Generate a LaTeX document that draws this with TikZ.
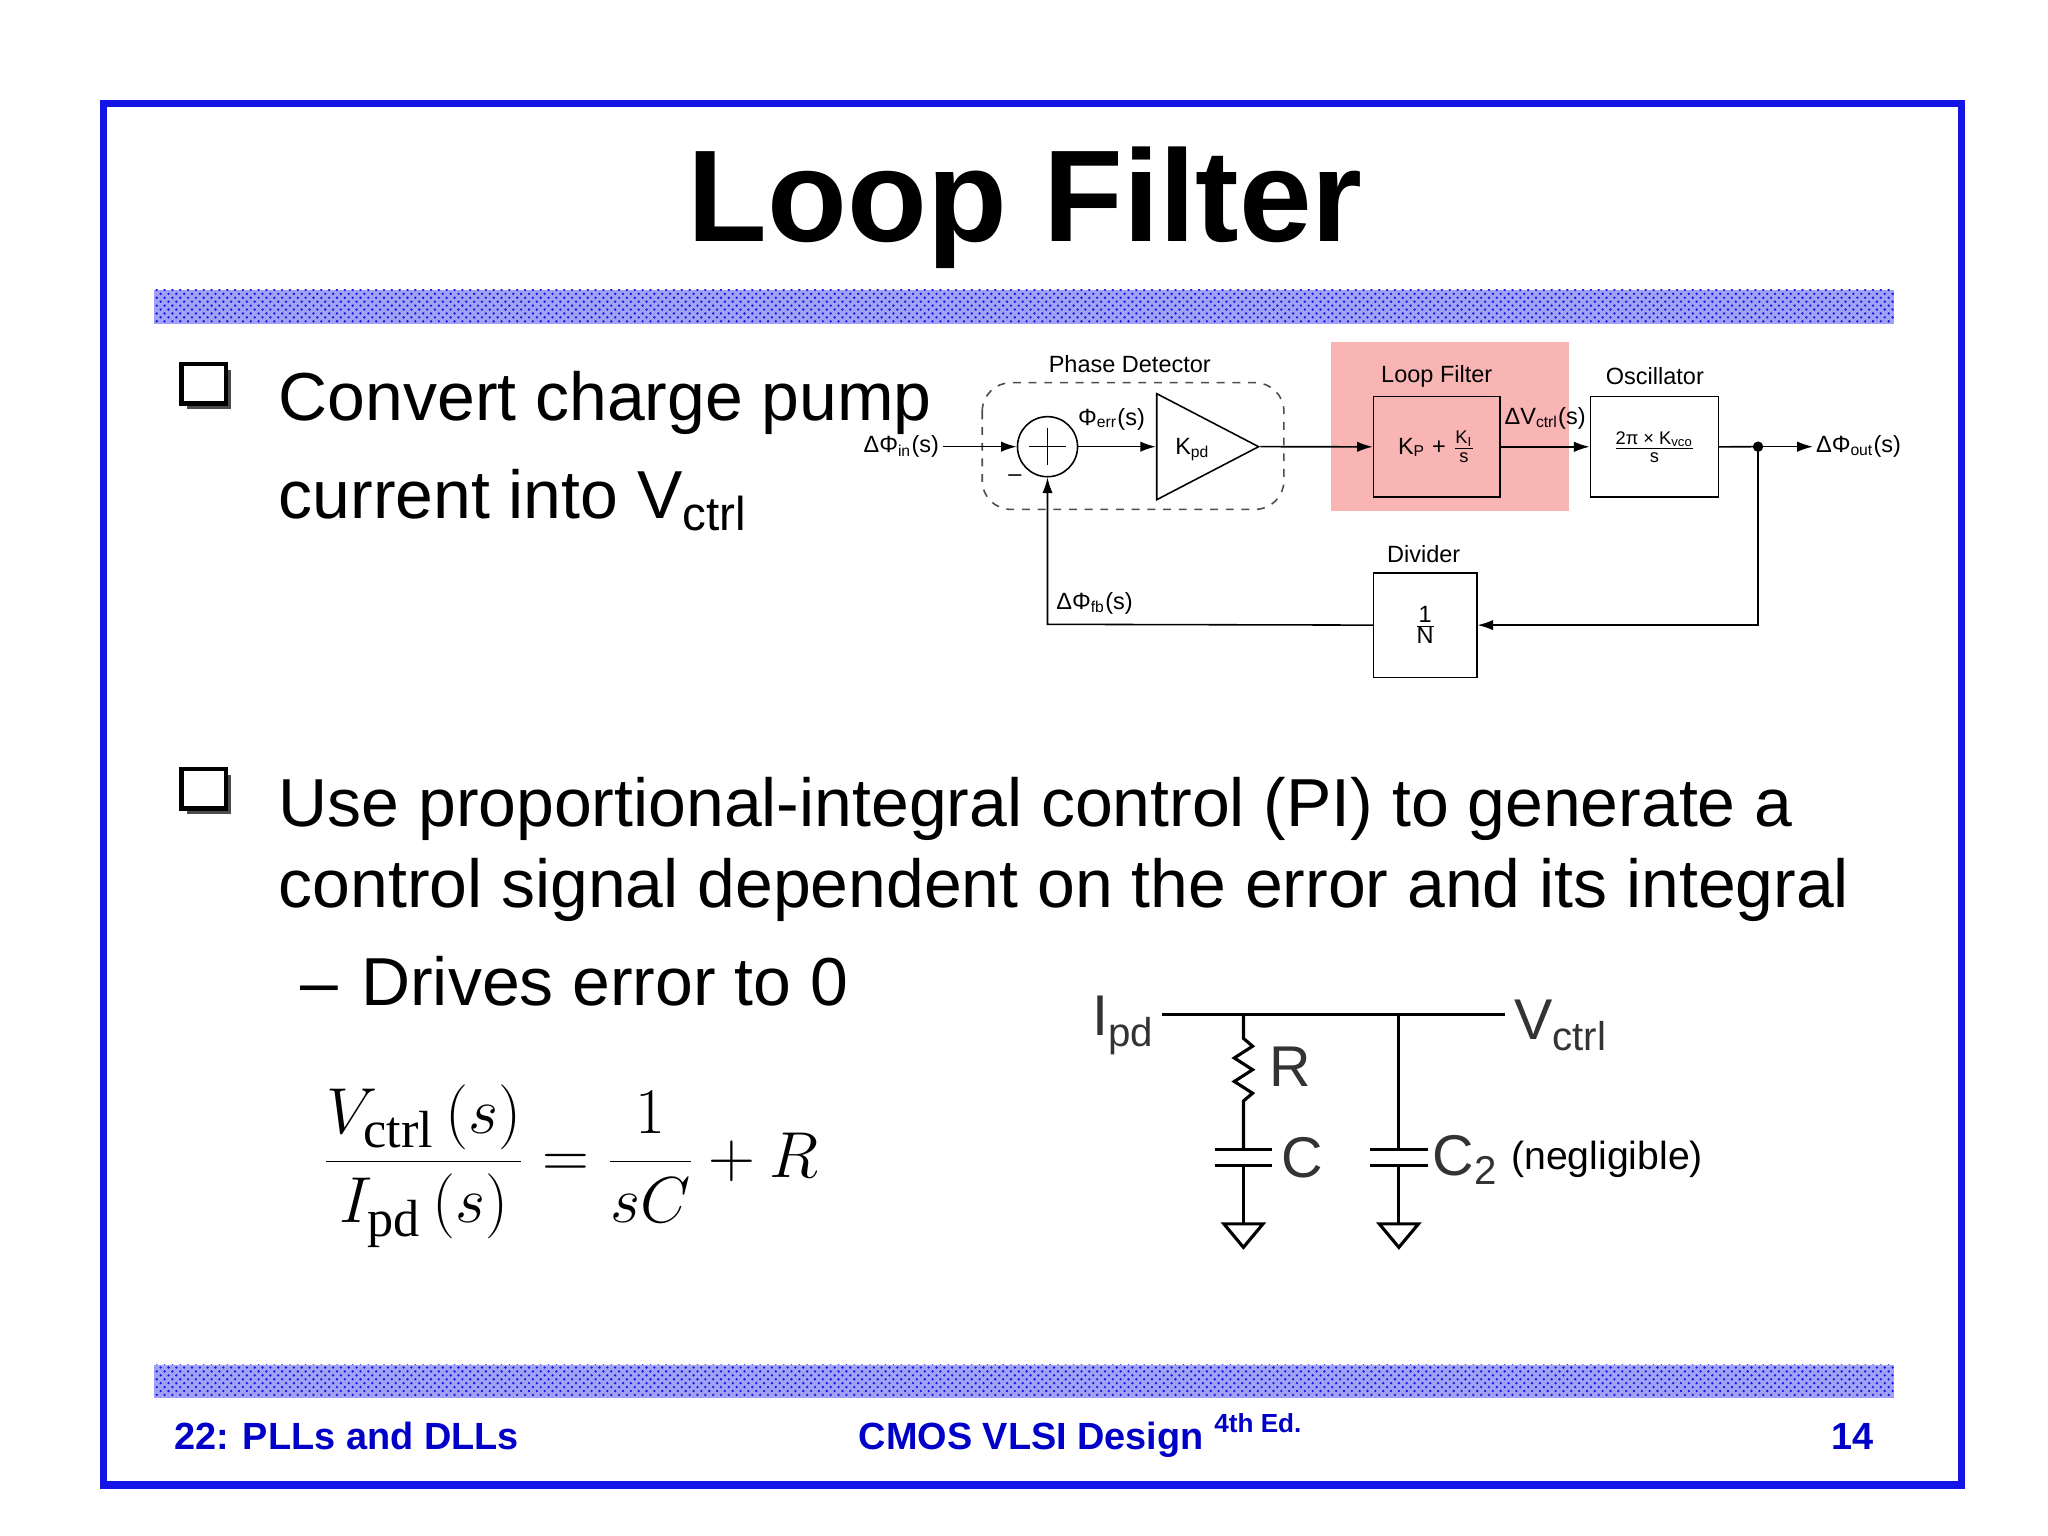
\documentclass[tikz,border=0pt]{standalone}
\usepackage{fontspec}
\setmainfont{Liberation Sans}
\newfontfamily\serifm{Liberation Serif}
\usetikzlibrary{arrows.meta,patterns,shapes.geometric}
\definecolor{fblue}{RGB}{20,20,230}
\definecolor{footblue}{RGB}{0,0,200}
\definecolor{lfpink}{RGB}{249,180,180}
\tikzset{
  blk/.style={draw,line width=0.6pt,inner sep=0pt},
  lbl/.style={font=\fontsize{9}{10}\selectfont,inner sep=1pt},
  wire/.style={line width=0.6pt},
  arr/.style={wire,-{Latex[length=6pt,width=4pt]}},
  cw/.style={line width=1.2pt},
  body/.style={font=\fontsize{26}{30}\selectfont,anchor=base west,inner sep=0pt},
  foot/.style={font=\fontsize{14.5}{16}\selectfont\bfseries,text=footblue,anchor=base,inner sep=0pt},
  clbl/.style={font=\fontsize{22}{24}\selectfont,text=black!80}
}
\newcommand{\srm}[1]{\mbox{\fontsize{20}{22}\selectfont\serifm #1}}
\begin{document}
\begin{tikzpicture}[x=0.5pt,y=-0.5pt]
\useasboundingbox (0,0) rectangle (1568,1176);
\fill[white] (0,0) rectangle (1568,1176);
% frame
\draw[fblue,line width=2.8pt] (79,79) rectangle (1502,1137);
% bars
\fill[fblue!40] (118,222) rectangle (1450,248);
\fill[pattern=crosshatch dots,pattern color=fblue] (118,222) rectangle (1450,248);
\fill[fblue!40] (118,1045) rectangle (1450,1070);
\fill[pattern=crosshatch dots,pattern color=fblue] (118,1045) rectangle (1450,1070);
% title
\node[font=\fontsize{50}{56}\selectfont\bfseries,anchor=base] (title) at (785,185) {Loop Filter};
% bullets
\foreach \yy in {279,589}{
  \fill[black!70] (143,\yy+4) rectangle (177,\yy+34);
  \draw[line width=1.6pt,fill=white] (139,\yy) rectangle (173,\yy+30);
}
\node[body] (b1a) at (213,322) {Convert charge pump};
\node[body] (b1b) at (213,397) {current into V\textsubscript{ctrl}};
\node[body] (b2a) at (213,633) {Use proportional-integral control (PI) to generate a};
\node[body] (b2b) at (213,695) {control signal dependent on the error and its integral};
\node[body] (b2c) at (230,770) {–\,\,Drives error to 0};
% equation
\node[font=\fontsize{32}{36}\selectfont,inner sep=0pt] (eq) at (437,893)
 {$\displaystyle \frac{V_{\srm{ctrl}}\,\bigl(s\bigr)}{I_{\srm{pd}}\,\bigl(s\bigr)}=\frac{1}{sC}+R$};
% footer
\node[foot,anchor=base west] (f1) at (133,1110) {22: PLLs and DLLs};
\node[foot,anchor=base west] (f2) at (657,1110) {CMOS VLSI Design \raisebox{0.45em}{\fontsize{10}{11}\selectfont 4th Ed.}};
\node[foot,anchor=base east] (f3) at (1435,1110) {14};

% ===== block diagram =====
\fill[lfpink] (1019,262) rectangle (1201,391);
\draw[dashed,line width=0.6pt,rounded corners=11pt,black!70] (752,293) rectangle (983,390);
\node[lbl] (pdl) at (865,279) {Phase Detector};
\node[lbl] (in) at (690,342) {ΔΦ\textsubscript{in}(s)};
\node[draw,circle,minimum size=23pt,inner sep=0pt,line width=0.6pt] (sum) at (802,342) {};
\draw[wire] (sum.center) ++(-14,0) -- ++(28,0);
\draw[wire] (sum.center) ++(0,-14) -- ++(0,28);
\node[lbl] at (777,366) {–};
\node[draw,isosceles triangle,isosceles triangle apex angle=55,minimum height=39pt,inner sep=0pt,line width=0.6pt,anchor=west] (kpd) at (885,342) {};
\node[lbl] at (913,344) {K\textsubscript{pd}};
\node[lbl] (err) at (851,321) {Φ\textsubscript{err}(s)};
\node[blk,minimum width=48.5pt,minimum height=38.5pt,anchor=north west] (lf) at (1051,303) {};
\node[lbl] at (lf.center) {K\textsubscript{P} + $\frac{\mbox{\scriptsize K\textsubscript{I}}}{\mbox{\scriptsize s}}$};
\node[lbl] (lfl) at (1100,288) {Loop Filter};
\node[lbl] (dv) at (1183,320) {ΔV\textsubscript{ctrl}(s)};
\node[blk,minimum width=49pt,minimum height=38.5pt,anchor=north west] (osc) at (1217,303) {};
\node[lbl] at (osc.center) {$\frac{\mbox{\scriptsize 2π × K\textsubscript{vco}}}{\mbox{\scriptsize s}}$};
\node[lbl] (oscl) at (1267,288) {Oscillator};
\coordinate (dot) at (1346,342);
\fill (dot) circle (4);
\node[lbl,anchor=west] (out) at (1388,342) {ΔΦ\textsubscript{out}(s)};
\node[blk,minimum width=39.5pt,minimum height=40pt,anchor=north west] (div) at (1051,438) {};
\node[lbl] at (div.center) {$\frac{\mbox{1}}{\mbox{N}}$};
\node[lbl] (divl) at (1090,424) {Divider};
\node[lbl] (fb) at (838,462) {ΔΦ\textsubscript{fb}(s)};
\draw[arr] (722,342) -- (sum.west);
\draw[arr] (sum.east) -- (kpd.west |- sum.east);
\draw[arr] (kpd.apex) -- (lf.west);
\draw[arr] (lf.east) -- (osc.west);
\draw[wire] (osc.east) -- (dot);
\draw[arr] (dot) -- (out.west);
\draw[arr] (dot) |- (div.east);
\draw[arr] (div.west) -- (802,478) -- (sum.south);

% ===== circuit =====
\coordinate (ipdw) at (890,777);
\coordinate (vw) at (1152,777);
\coordinate (jr) at (952,777);
\coordinate (jc) at (1071,777);
\node[clbl] (ipd) at (860,785) {I\textsubscript{pd}};
\node[clbl] (vc) at (1195,785) {V\textsubscript{ctrl}};
\draw[cw] (ipdw) -- (vw);
\draw[cw] (jr) -- (952,795) -- (959,801) -- (945,810) -- (959,819) -- (945,828) -- (959,837) -- (952,843) -- (952,880);
\node[clbl] (rl) at (988,817) {R};
\draw[cw] (930,880) -- (974,880);
\draw[cw] (930,892) -- (974,892);
\draw[cw] (952,892) -- (952,937);
\draw[cw] (937,937) -- (967,937) -- (952,955) -- cycle;
\node[clbl] (cl) at (997,886) {C};
\draw[cw] (jc) -- (1071,880);
\draw[cw] (1049,880) -- (1093,880);
\draw[cw] (1049,892) -- (1093,892);
\draw[cw] (1071,892) -- (1071,937);
\draw[cw] (1056,937) -- (1086,937) -- (1071,955) -- cycle;
\node[clbl] (c2l) at (1122,888) {C\textsubscript{2}};
\node[font=\fontsize{15}{18}\selectfont,anchor=west] (neg) at (1150,888) {(negligible)};
\end{tikzpicture}
\end{document}
